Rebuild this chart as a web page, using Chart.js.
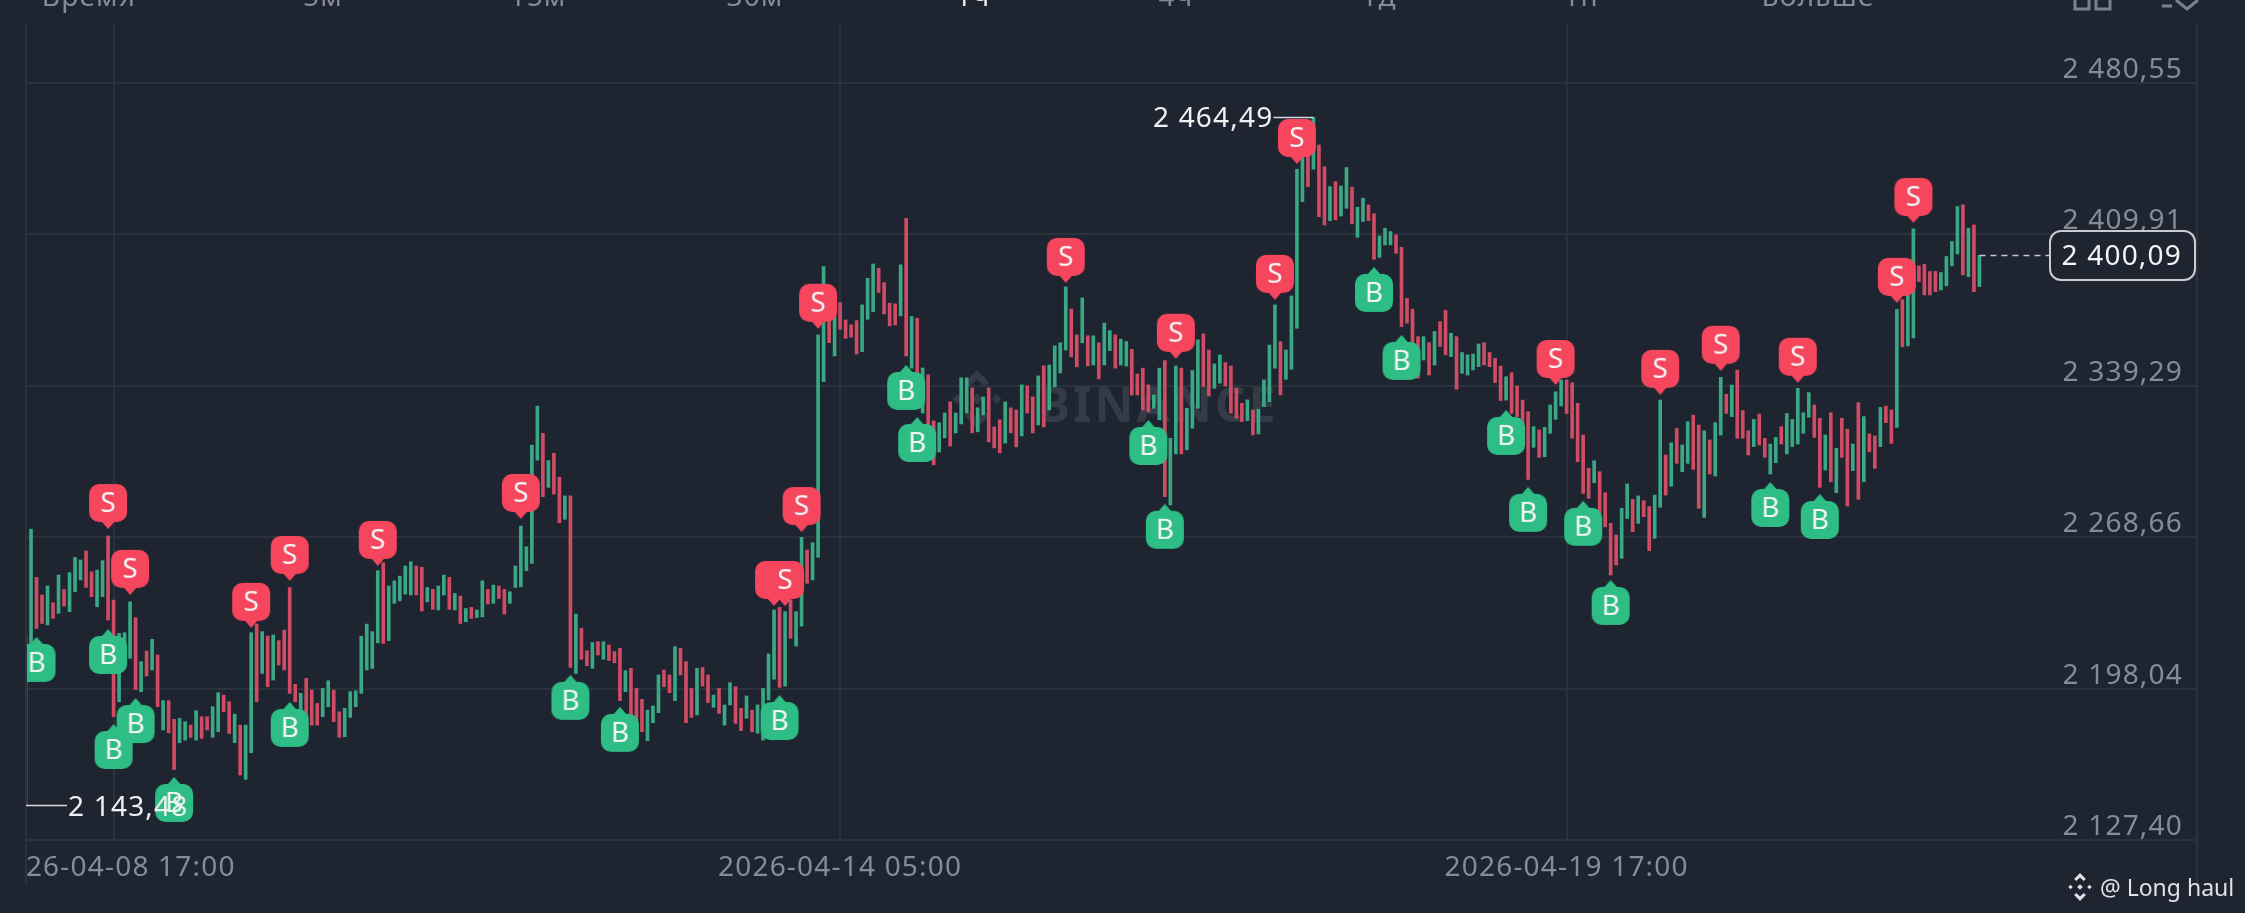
<!DOCTYPE html>
<html>
<head>
<meta charset="utf-8">
<title>ETH 1h</title>
<script src="https://cdn.jsdelivr.net/npm/chart.js@4/dist/chart.umd.min.js"></script>
<style>
  html, body { margin: 0; padding: 0; background: #1e2530; overflow: hidden; }
  canvas { display: block; }
</style>
</head>
<body>
<canvas id="klineChart" width="2245" height="913"></canvas>
<script>
const highs = [
  2222.2, 2272.4, 2249.9, 2241.7, 2245.9, 2238.1, 2251, 2244.3, 2252.1, 2259.2,
  2258, 2262.2, 2252.5, 2253.3, 2257.7, 2269.2, 2239.3, 2223.8, 2224.1, 2238.5,
  2231.1, 2210.6, 2215.5, 2221, 2213.7, 2192.4, 2192.4, 2183.7, 2184.1, 2182.6,
  2181, 2187.7, 2184.9, 2184.9, 2189.6, 2196.1, 2195, 2191.9, 2186.1, 2181,
  2181, 2224.1, 2228.1, 2224.6, 2222.5, 2223, 2220.4, 2225.3, 2245.2, 2200,
  2195.8, 2202.8, 2197.3, 2191.1, 2198.1, 2201.7, 2197.3, 2187.2, 2188.8, 2196.6,
  2197, 2222.5, 2228.1, 2224.6, 2253, 2256.7, 2245.9, 2248.3, 2250.5, 2255.2,
  2257.2, 2255.2, 2254.6, 2245.2, 2244.3, 2245.9, 2251, 2249.9, 2242.4, 2241.2,
  2235.4, 2235.9, 2234.7, 2248.3, 2244.3, 2246.3, 2245.9, 2244.3, 2243.2, 2255.2,
  2273.8, 2264.2, 2311.6, 2329.8, 2317.1, 2304.4, 2307.8, 2296.6, 2287.9, 2287.9,
  2232.8, 2226.1, 2215.7, 2219.5, 2219.9, 2219.9, 2218.4, 2215.3, 2216.8, 2206.4,
  2207.5, 2198.1, 2193, 2188, 2189.9, 2204.4, 2206.7, 2204.4, 2217.6, 2216.8,
  2210.6, 2198.1, 2207.5, 2207.9, 2204.4, 2195, 2198.1, 2190.4, 2200.8, 2198.9,
  2188.8, 2194.6, 2188, 2190.4, 2198.1, 2214.2, 2234.7, 2235.9, 2233.9, 2239.4,
  2233.9, 2268.6, 2262.7, 2266.1, 2363, 2394.9, 2370, 2371.6, 2378.1, 2370,
  2367.7, 2369.7, 2377, 2389.4, 2396.1, 2394.1, 2387.4, 2377.8, 2377.5, 2395.7,
  2417.4, 2371.6, 2370.8, 2347.6, 2344.4, 2322.9, 2322, 2326.6, 2331.8, 2326.6,
  2343, 2343, 2338.3, 2329, 2334.1, 2338.3, 2320.1, 2323.4, 2331.8, 2329,
  2328, 2339.7, 2339.2, 2334.1, 2343.9, 2348.6, 2349, 2357.9, 2359.3, 2385.4,
  2375.1, 2363, 2380.3, 2362.6, 2362.6, 2359.3, 2368.5, 2365, 2363, 2361,
  2359.9, 2356.3, 2344.8, 2347.5, 2339.7, 2335, 2347.5, 2351, 2314.8, 2348.5,
  2347.5, 2328.8, 2346.4, 2360.7, 2363.5, 2356, 2349.5, 2353.7, 2350.1, 2348.5,
  2338.1, 2331.1, 2332.7, 2328, 2328.3, 2342, 2358.3, 2377, 2359.9, 2356,
  2381.2, 2440.3, 2457.1, 2454, 2464.49, 2451.6, 2441.5, 2432.2, 2434.5, 2432.5,
  2441.1, 2431.9, 2422.6, 2426.8, 2423.7, 2419.5, 2409.2, 2412.8, 2411.2, 2409.7,
  2403.9, 2380.1, 2375, 2362.2, 2362.2, 2359.4, 2364.6, 2369.2, 2374.4, 2363.8,
  2362.2, 2354.8, 2353.7, 2354.1, 2358.8, 2359.4, 2354.8, 2352.1, 2348.5, 2343.5,
  2345.4, 2339.2, 2332.6, 2327.2, 2320.2, 2318.7, 2319.9, 2330.3, 2336.5, 2342,
  2342, 2340.7, 2331.1, 2316.3, 2300.8, 2304.3, 2299.2, 2289.4, 2275.1, 2269.7,
  2282.1, 2293.5, 2286.3, 2287.9, 2285.7, 2282.9, 2288.3, 2332.6, 2307, 2312.7,
  2319.4, 2311.7, 2322.5, 2325.6, 2321, 2318.3, 2314, 2322.1, 2343.2, 2335.3,
  2339.6, 2346.6, 2327.7, 2318.3, 2323.6, 2326.1, 2314.8, 2312.1, 2315.2, 2320.2,
  2326.4, 2323.6, 2338.1, 2326.7, 2336.1, 2330.3, 2324.1, 2316.3, 2326.7, 2310.1,
  2324.1, 2319, 2312.1, 2331.4, 2324.9, 2316.8, 2315.9, 2329.2, 2329.8, 2328,
  2374.9, 2379.4, 2386.3, 2412.5, 2395.2, 2396, 2392.6, 2392.6, 2392.1, 2399.6,
  2406.6, 2422.9, 2423.7, 2412.8, 2414.3, 2400.09
];
const lows = [
  2143.48, 2217.6, 2226.1, 2228.4, 2227.7, 2230.8, 2233.1, 2236.5, 2233.9, 2243.2,
  2248.7, 2245.2, 2240.9, 2236.2, 2240.9, 2230, 2184.9, 2191.9, 2208.2, 2212.1,
  2197.6, 2196.6, 2203.9, 2206.7, 2189.6, 2178.7, 2177.4, 2160.3, 2172.8, 2174,
  2175.3, 2174, 2174.8, 2178.7, 2175.3, 2177.9, 2187.2, 2177.1, 2172.8, 2157.7,
  2155.7, 2168.1, 2191.9, 2205.1, 2198.9, 2202, 2209, 2206.7, 2195.8, 2191.9,
  2186.5, 2185.7, 2181, 2181, 2184.9, 2189.6, 2182.6, 2175.3, 2175.6, 2184.6,
  2189.6, 2195.8, 2206.7, 2207.4, 2219.4, 2219.1, 2220.4, 2237.8, 2239, 2242.1,
  2241.7, 2241.7, 2234.2, 2238.5, 2235, 2234.7, 2241.7, 2235, 2234.7, 2228.4,
  2229.2, 2230.8, 2231.2, 2231.5, 2237.5, 2237.8, 2240.1, 2232.8, 2237.8, 2245.2,
  2245.5, 2253, 2256.4, 2304.6, 2287.6, 2291.9, 2288.8, 2275.4, 2277, 2207.9,
  2205.1, 2211.7, 2208.7, 2207.5, 2213.7, 2211.7, 2211.1, 2210.1, 2192.4, 2196.6,
  2185.7, 2183.4, 2177.9, 2173.7, 2182.1, 2186.8, 2198.9, 2196.1, 2192.4, 2204.4,
  2182.1, 2184.6, 2185.7, 2199.2, 2191.5, 2189.3, 2186.5, 2181, 2190.4, 2181.8,
  2178.4, 2184.2, 2177.9, 2177.2, 2174, 2192.7, 2202.4, 2198.6, 2199.2, 2221.5,
  2217.9, 2227.2, 2247.1, 2248.7, 2259.3, 2341.2, 2359.4, 2353.2, 2365.6, 2361.4,
  2361.9, 2354.1, 2355.2, 2370.3, 2373.9, 2382.8, 2372.8, 2367.2, 2367.7, 2371.9,
  2353.2, 2347.5, 2345.1, 2326.6, 2318.7, 2302.4, 2308.4, 2315, 2311.2, 2317.3,
  2321.5, 2326.6, 2317.3, 2317.8, 2325.7, 2313.1, 2310.3, 2308, 2312.6, 2317.3,
  2310.8, 2315.9, 2326.6, 2317.3, 2321, 2320.1, 2328, 2338.8, 2345.3, 2356,
  2352.8, 2348.1, 2359.3, 2348.6, 2349, 2342.5, 2349, 2355.7, 2347.5, 2349,
  2348.5, 2335, 2335, 2328, 2327.2, 2328.8, 2323.4, 2287.6, 2283.7, 2307.5,
  2307.5, 2309.4, 2319.5, 2328.8, 2338.9, 2334.5, 2338.1, 2340.5, 2339.2, 2326.5,
  2324.1, 2322.6, 2323, 2316.4, 2316.8, 2329.6, 2331.9, 2347.5, 2335, 2342.3,
  2347, 2366.1, 2425.2, 2432.2, 2440.3, 2418.2, 2414.3, 2416.3, 2416.7, 2418.5,
  2422.1, 2414.8, 2408.6, 2415.9, 2416.3, 2398.3, 2399.2, 2405, 2405, 2401.1,
  2366.9, 2368.5, 2359.1, 2342.8, 2351.3, 2344.3, 2349, 2357.6, 2353.7, 2352.9,
  2337.7, 2345.1, 2344.3, 2346.7, 2348.2, 2349, 2348.2, 2340.8, 2332.4, 2332.6,
  2326.4, 2324.9, 2321.8, 2295.6, 2310.6, 2305.9, 2306.2, 2317.1, 2323.6, 2329.9,
  2326.4, 2314.8, 2303.9, 2289.1, 2286.8, 2294.1, 2279.8, 2273.5, 2251, 2255.7,
  2258.8, 2277.4, 2271.2, 2275.1, 2278.2, 2262.4, 2268.1, 2282.6, 2288.3, 2292.5,
  2303.1, 2299.2, 2303.1, 2300.3, 2282.1, 2277.9, 2298.1, 2297.2, 2316.3, 2326.4,
  2324.9, 2314.8, 2314.8, 2307, 2310.9, 2311.7, 2305.9, 2298.1, 2303.4, 2312.1,
  2307.5, 2310.9, 2312.1, 2317.1, 2324.6, 2315.2, 2291.9, 2300, 2294.5, 2289.4,
  2305.9, 2283.2, 2299.7, 2286.3, 2294.5, 2308.5, 2300.8, 2310.9, 2322.1, 2312.4,
  2319.9, 2357.5, 2357.9, 2361.6, 2387.9, 2381.7, 2381.7, 2383.2, 2384, 2385.9,
  2395.2, 2400.8, 2391, 2390.2, 2383.2, 2385.6
];
// 1 = closed higher (green), 0 = closed lower (red)
const rising = [
  1,1,0,0,1,0,1,0,1,1,  1,0,0,1,1,0,0,1,1,1,  0,1,0,1,0,1,0,0,1,1,  0,1,0,0,1,1,0,0,1,0,
  1,1,0,1,0,1,0,0,0,0,  1,0,0,0,1,1,0,0,1,1,  1,1,1,1,1,0,1,1,1,1,  1,0,0,1,0,1,1,0,1,0,
  1,0,1,1,0,1,0,0,1,1,  1,1,1,1,0,1,0,0,1,0,  1,0,0,1,0,1,0,0,0,1,  0,0,0,1,1,1,0,0,1,0,
  0,0,1,0,0,1,0,1,1,0,  0,1,0,1,1,1,1,0,1,0,  1,1,0,1,1,1,0,1,0,0,  0,0,1,1,1,0,0,0,0,1,
  0,1,0,1,0,0,1,1,0,1,  1,1,0,1,1,0,0,0,1,0,  0,1,0,0,1,0,1,1,1,1,  0,0,1,0,1,0,1,1,0,1,
  1,0,0,0,0,1,1,0,1,1,  0,1,1,1,0,0,1,1,0,0,  0,0,1,0,1,1,1,1,0,1,  1,1,1,0,1,0,0,1,0,1,
  1,0,1,1,0,0,1,1,1,0,  0,0,0,0,1,0,1,0,0,1,  0,1,1,1,1,0,0,0,0,1,  0,0,0,0,1,0,1,1,1,1,
  0,0,0,0,0,1,0,0,0,0,  1,1,0,1,0,0,1,1,0,1,  0,1,1,0,0,1,0,1,1,0,  1,0,0,0,1,0,0,1,1,0,
  1,1,1,1,1,0,0,1,0,1,  0,0,1,0,1,0,0,1,0,0,  1,0,1,1,0,0,0,0,1,1,  1,1,0,1,0,1
];

// buy / sell tags: bar number and price at the middle of the tag
const sellBars = [15, 19, 41, 48, 64, 90, 136, 138, 141, 144, 189, 209, 227, 231, 278, 297, 308, 322, 340, 343];
const sellPrices = [2284.6, 2253.9, 2238.5, 2260.4, 2267.4, 2289.3, 2248.7, 2248.7, 2283.2, 2378, 2399.4, 2364, 2391.5, 2454.9, 2351.8, 2347.2, 2358.4, 2352.8, 2390.1, 2427.4];
const buyBars = [2, 15, 16, 20, 27, 48, 99, 108, 137, 160, 162, 204, 207, 245, 250, 269, 273, 283, 288, 317, 326];
const buyPrices = [2210, 2213.7, 2169.4, 2181.5, 2144.7, 2179.7, 2192.3, 2177.4, 2182.9, 2336.9, 2312.6, 2311.2, 2272.1, 2382.6, 2350.9, 2315.9, 2280, 2273.5, 2236.6, 2282.3, 2276.7];

const priceTicks = [2127.40, 2198.04, 2268.66, 2339.29, 2409.91, 2480.55];
const timeTicks = [16, 148, 280];
const timeLabels = ["2026-04-08 17:00", "2026-04-14 05:00", "2026-04-19 17:00"];
const tabs = ["Время", "5м", "15м", "30м", "1ч", "4ч", "1д", "1н", "Больше"];
const tabCenters = [89, 323, 538, 755, 973, 1176, 1379, 1581, 1818];

const highBar = 234, highPrice = 2464.49;
const lowPrice = 2143.48;
const lastBar = 355, lastPrice = 2400.09;

const BG = "#1e2530";
const GRID = "#2b323d";
const AXIS_TEXT = "#868c96";
const UP = "#3aa885";
const DOWN = "#cf4c64";
const FONT = "'Noto Sans', sans-serif";
const SPACING = "1.2px";

const fmt = (v) => {
  const s = v.toFixed(2).replace(".", ",");
  return s.charAt(0) + " " + s.slice(1);
};

// tag pictures for the scatter points, box centred on the point
const makeTag = (letter, color, tipUp) => {
  const c = document.createElement("canvas");
  c.width = 40;
  c.height = 56;
  const g = c.getContext("2d");
  g.fillStyle = color;
  g.beginPath();
  g.roundRect(1, 9, 38, 38, 10);
  g.fill();
  g.beginPath();
  if (tipUp) {
    g.moveTo(13, 10); g.lineTo(20, 2); g.lineTo(27, 10);
  } else {
    g.moveTo(13, 46); g.lineTo(20, 54); g.lineTo(27, 46);
  }
  g.fill();
  g.fillStyle = "#f3f6f5";
  g.font = "28px " + FONT;
  g.textAlign = "center";
  g.textBaseline = "middle";
  g.fillText(letter, 20, 29);
  return c;
};

const binanceLogo = (ctx, cx, cy, r) => {
  const poly = (pts) => {
    ctx.beginPath();
    pts.forEach((p, i) => i ? ctx.lineTo(cx + p[0] * r, cy + p[1] * r) : ctx.moveTo(cx + p[0] * r, cy + p[1] * r));
    ctx.closePath();
    ctx.fill();
  };
  const chevron = [[0, -1], [0.42, -0.58], [0.26, -0.42], [0, -0.68], [-0.26, -0.42], [-0.42, -0.58]];
  poly(chevron);
  poly(chevron.map((p) => [p[0], -p[1]]));
  poly([[0, -0.2], [0.2, 0], [0, 0.2], [-0.2, 0]]);
  poly([[0.68, -0.16], [0.84, 0], [0.68, 0.16], [0.52, 0]]);
  poly([[-0.68, -0.16], [-0.52, 0], [-0.68, 0.16], [-0.84, 0]]);
};

// watermark goes under the bars
const watermark = {
  id: "watermark",
  beforeDraw(chart) {
    chart.ctx.letterSpacing = SPACING;
  },
  beforeDatasetsDraw(chart) {
    const ctx = chart.ctx;
    ctx.save();
    ctx.fillStyle = "#343b46";
    binanceLogo(ctx, 977, 399, 29);
    ctx.font = "700 48px " + FONT;
    ctx.letterSpacing = "3px";
    ctx.textAlign = "left";
    ctx.textBaseline = "alphabetic";
    ctx.fillText("BINANCE", 1038, 422);
    ctx.restore();
  }
};

// price labels, frame, tabs and footer
const overlay = {
  id: "overlay",
  afterDraw(chart) {
    const ctx = chart.ctx;
    const x = chart.scales.x;
    const y = chart.scales.y;
    ctx.save();

    // hides the part of the first date that runs off the plot
    ctx.fillStyle = BG;
    ctx.fillRect(0, 842, 25, 60);

    ctx.strokeStyle = GRID;
    ctx.lineWidth = 2;
    ctx.beginPath();
    ctx.moveTo(26, 24); ctx.lineTo(26, 884);
    ctx.moveTo(2197, 24); ctx.lineTo(2197, 884);
    ctx.stroke();

    // session high and low
    ctx.font = "28px " + FONT;
    ctx.fillStyle = "#eef0f2";
    ctx.strokeStyle = "#d5d8dc";
    ctx.lineWidth = 1.5;
    ctx.textBaseline = "middle";
    const hx = x.getPixelForValue(highBar), hy = y.getPixelForValue(highPrice);
    ctx.beginPath(); ctx.moveTo(hx, hy); ctx.lineTo(hx - 40, hy); ctx.stroke();
    ctx.textAlign = "right";
    ctx.fillText(fmt(highPrice), hx - 40, hy + 2);
    const ly = y.getPixelForValue(lowPrice);
    ctx.beginPath(); ctx.moveTo(26, ly); ctx.lineTo(67, ly); ctx.stroke();
    ctx.textAlign = "left";
    ctx.fillText(fmt(lowPrice), 68, ly + 3);

    // last price
    const py = y.getPixelForValue(lastPrice);
    const px = x.getPixelForValue(lastBar);
    ctx.setLineDash([6, 5]);
    ctx.strokeStyle = "#c4c8cd";
    ctx.beginPath(); ctx.moveTo(px, py); ctx.lineTo(2050, py); ctx.stroke();
    ctx.setLineDash([]);
    ctx.fillStyle = BG;
    ctx.strokeStyle = "#c9cdd2";
    ctx.lineWidth = 2;
    ctx.beginPath(); ctx.roundRect(2050, 231, 145, 49, 11); ctx.fill(); ctx.stroke();
    ctx.fillStyle = "#f2f4f5";
    ctx.textAlign = "right";
    ctx.fillText(fmt(lastPrice), 2182, py + 2);

    // tabs, cut by the top of the picture
    ctx.textAlign = "center";
    ctx.textBaseline = "alphabetic";
    tabs.forEach((t, i) => {
      ctx.fillStyle = t === "1ч" ? "#e8eaed" : "#868c96";
      ctx.fillText(t, tabCenters[i], 6);
    });
    ctx.strokeStyle = "#7b818b";
    ctx.lineWidth = 3;
    ctx.beginPath();
    ctx.moveTo(2075, 0); ctx.lineTo(2075, 9); ctx.lineTo(2089, 9); ctx.lineTo(2089, 0);
    ctx.moveTo(2096, 0); ctx.lineTo(2096, 9); ctx.lineTo(2110, 9); ctx.lineTo(2110, 0);
    ctx.moveTo(2162, 6); ctx.lineTo(2172, 6);
    ctx.moveTo(2176, 0); ctx.lineTo(2187, 9); ctx.lineTo(2198, 0);
    ctx.stroke();

    // footer
    ctx.fillStyle = "#dfe2e6";
    binanceLogo(ctx, 2080, 887, 14);
    ctx.font = "23px " + FONT;
    ctx.letterSpacing = "0px";
    ctx.textAlign = "left";
    ctx.fillText("@ Long haul", 2100, 896);
    ctx.restore();
  }
};

// tick labels must not push the plot inwards
const noPadding = (scale) => {
  scale.paddingLeft = 0;
  scale.paddingRight = 0;
  scale.paddingTop = 0;
  scale.paddingBottom = 0;
};

new Chart(document.getElementById("klineChart"), {
  data: {
    datasets: [
      {
        type: "scatter",
        data: buyBars.map((b, i) => ({ x: b, y: buyPrices[i] })),
        pointStyle: makeTag("B", "#2ebd85", true),
        pointRadius: 1
      },
      {
        type: "scatter",
        data: sellBars.map((b, i) => ({ x: b, y: sellPrices[i] })),
        pointStyle: makeTag("S", "#f6465d", false),
        pointRadius: 1
      },
      {
        type: "bar",
        data: highs.map((h, i) => ({ x: i, y: rising[i] ? [lows[i], h] : [h, lows[i]] })),
        backgroundColor: rising.map((r) => (r ? UP : DOWN)),
        barThickness: 3
      }
    ]
  },
  options: {
    responsive: false,
    animation: false,
    events: [],
    layout: { padding: { left: 26, right: 48, top: 24, bottom: 0 } },
    plugins: { legend: { display: false }, tooltip: { enabled: false } },
    scales: {
      x: {
        type: "linear",
        offset: false,
        min: 0.09,
        max: 394.53,
        grid: { color: GRID, lineWidth: 2, drawTicks: false, offset: false },
        border: { display: false },
        afterBuildTicks: (scale) => { scale.ticks = timeTicks.map((v) => ({ value: v })); },
        afterFit: (scale) => { scale.height = 73; noPadding(scale); },
        ticks: {
          autoSkip: false,
          maxRotation: 0,
          padding: 11,
          color: AXIS_TEXT,
          font: { family: FONT, size: 28 },
          callback: (v) => timeLabels[timeTicks.indexOf(v)]
        }
      },
      y: {
        position: "right",
        min: 2127.40,
        max: 2508.05,
        grid: { color: GRID, lineWidth: 2, drawTicks: false },
        border: { display: false },
        afterBuildTicks: (scale) => { scale.ticks = priceTicks.map((v) => ({ value: v })); },
        afterFit: (scale) => { scale.width = 0; noPadding(scale); },
        ticks: {
          mirror: true,
          padding: -14,
          labelOffset: -13,
          color: AXIS_TEXT,
          font: { family: FONT, size: 28 },
          callback: (v) => fmt(v)
        }
      }
    }
  },
  plugins: [watermark, overlay]
});
</script>
</body>
</html>
